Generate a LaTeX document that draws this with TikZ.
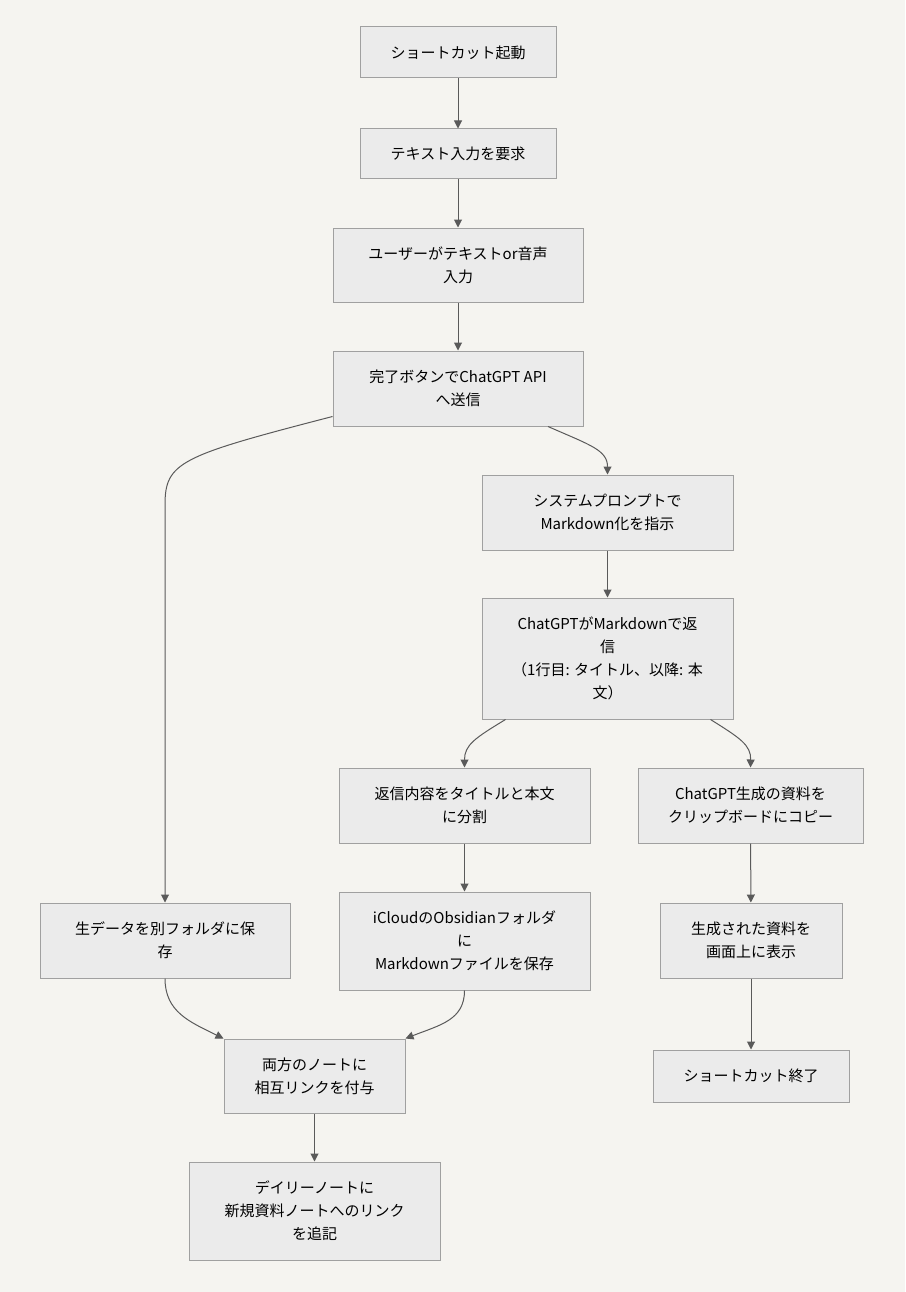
\documentclass[tikz,border=0pt]{standalone}
\usepackage{fontspec}
\setmainfont{Noto Sans CJK JP}
\usepackage{tikz}
\definecolor{bg}{RGB}{245,244,240}
\definecolor{cc}{RGB}{235,235,235}
\definecolor{bd}{RGB}{160,160,160}
\definecolor{ln}{RGB}{90,90,90}
\usetikzlibrary{arrows.meta}

\begin{document}
\begin{tikzpicture}[every node/.style={inner sep=0pt, align=center, font=\fontsize{15pt}{23pt}\selectfont},
box/.style={rectangle, fill=cc, draw=bd, line width=1pt},
flow/.style={draw=ln, line width=1pt, -{Triangle[length=8pt,width=8pt]}}]
\fill[bg] (0pt,0pt) rectangle (905pt,-1292pt);
\node (1) [box, minimum width=196pt, minimum height=51pt] at (458pt, -52.5pt) {ショートカット起動};
\node (2) [box, minimum width=196pt, minimum height=50pt] at (458pt, -154pt) {テキスト入力を要求};
\node (3) [box, minimum width=250pt, minimum height=74pt] at (458pt, -265pt) {ユーザーがテキストor音声\\入力};
\node (4) [box, minimum width=250pt, minimum height=75pt] at (458pt, -388.5pt) {完了ボタンでChatGPT API\\へ送信};
\node (5) [box, minimum width=251pt, minimum height=75pt] at (607.5pt, -512.5pt) {システムプロンプトで\\Markdown化を指示};
\node (6) [box, minimum width=251pt, minimum height=121pt] at (607.5pt, -658.5pt) {ChatGPTがMarkdownで返\\信\\（1行目: タイトル、以降: 本\\文）};
\node (7) [box, minimum width=251pt, minimum height=75pt] at (464.5pt, -805.5pt) {返信内容をタイトルと本文\\に分割};
\node (8) [box, minimum width=225pt, minimum height=75pt] at (750.5pt, -805.5pt) {ChatGPT生成の資料を\\クリップボードにコピー};
\node (9) [box, minimum width=250pt, minimum height=75pt] at (165pt, -940.5pt) {生データを別フォルダに保\\存};
\node (10) [box, minimum width=251pt, minimum height=98pt] at (464.5pt, -941pt) {iCloudのObsidianフォルダ\\に\\Markdownファイルを保存};
\node (11) [box, minimum width=182pt, minimum height=75pt] at (751pt, -940.5pt) {生成された資料を\\画面上に表示};
\node (12) [box, minimum width=181pt, minimum height=74pt] at (314.5pt, -1076pt) {両方のノートに\\相互リンクを付与};
\node (13) [box, minimum width=196pt, minimum height=52pt] at (751pt, -1076pt) {ショートカット終了};
\node (14) [box, minimum width=251pt, minimum height=98pt] at (314.5pt, -1211pt) {デイリーノートに\\新規資料ノートへのリンク\\を追記};
\draw [flow] (1) -- (2);
\draw [flow] (2) -- (3);
\draw [flow] (3) -- (4);
\draw [flow] ([xshift=90pt]4.south) .. controls (590pt, -445pt) and (607.5pt, -450pt) .. (5.north);
\draw [flow] ([yshift=10pt]4.south west) .. controls (180pt, -456pt) and (165pt, -462pt) .. (165pt, -505pt) -- (9.north);
\draw [flow] (5) -- (6);
\draw [flow] ([xshift=-102pt]6.south) .. controls (475pt, -738pt) and (464.5pt, -745pt) .. (7.north);
\draw [flow] ([xshift=103pt]6.south) .. controls (740pt, -738pt) and (751pt, -745pt) .. (8.north);
\draw [flow] (7) -- (10);
\draw [flow] (8) -- (11);
\draw [flow] (9.south) .. controls (165pt, -1012pt) and (190pt, -1022pt) .. (12.north west);
\draw [flow] (10.south) .. controls (464.5pt, -1020pt) and (440pt, -1025pt) .. (12.north east);
\draw [flow] (11) -- (13);
\draw [flow] (12) -- (14);
\end{tikzpicture}
\end{document}
